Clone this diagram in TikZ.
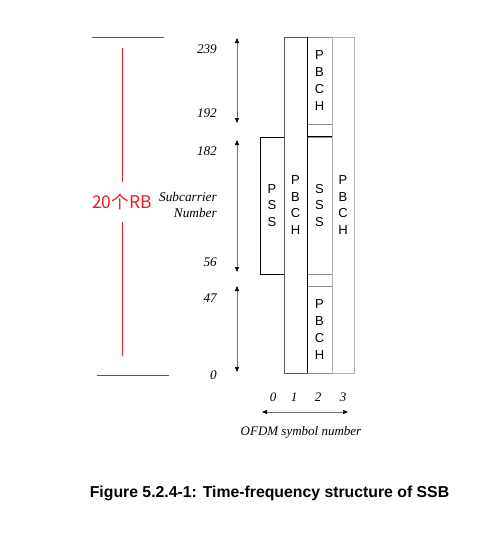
\documentclass[tikz,border=0pt]{standalone}
\usepackage{fontspec}
\setmainfont{Liberation Serif}
\setsansfont{Liberation Sans}
\newfontfamily\cjkfont{Noto Sans CJK SC}
\usepackage{tikz}
\usetikzlibrary{arrows.meta}
\definecolor{rbred}{RGB}{237,28,36}

\begin{document}
\begin{tikzpicture}[x=1pt, y=-1pt,
  col/.style={draw=black!65, line width=0.8pt, inner sep=0pt, align=center,
              font=\sffamily\fontsize{13}{16.8}\selectfont},
  num/.style={font=\itshape\fontsize{13.2}{15}\selectfont, anchor=east, inner sep=0pt},
  sym/.style={font=\itshape\fontsize{13}{15}\selectfont, inner sep=0pt},
  span/.style={{Triangle[length=5pt,width=4pt,black]}-{Triangle[length=5pt,width=4pt,black]},
               draw=black!55, line width=0.6pt},
  rbline/.style={draw=rbred, line width=1pt}]
\useasboundingbox (0,0) rectangle (487,533);
% 20 RB marker
\node[text=rbred, inner sep=0pt, font=\cjkfont\fontsize{17.5}{19}\selectfont] (rb) at (122,202) {20个RB};
\coordinate (r1) at (122.5,48);  \coordinate (r2) at (122.5,182);
\coordinate (r3) at (122.5,222); \coordinate (r4) at (122.5,356);
\draw[rbline] (r1) -- (r2);
\draw[rbline] (r3) -- (r4);
\draw[rbline] (92,37.5) -- (164,37.5);
\draw[rbline] (97,375.5) -- (169,375.5);
% SSB grid
\node[col, draw=black, minimum width=24pt, minimum height=137pt] (pss) at (272,205.5) {P\\S\\S};
\node[col, minimum width=23pt, minimum height=336pt] (sym1) at (295.5,205) {P\\B\\C\\H};
\node[col, draw=black!45, minimum width=25pt, minimum height=87pt] (pbchtop) at (319.5,80.5) {P\\B\\C\\H};
\node[col, draw=black!45, minimum width=25pt, minimum height=137pt] (sss) at (319.5,205.5) {S\\S\\S};
\node[col, draw=black!45, minimum width=25pt, minimum height=87pt] (pbchbot) at (319.5,329.5) {P\\B\\C\\H};
\node[col, draw=black!30, minimum width=22pt, minimum height=336pt] (sym3) at (343,205) {P\\B\\C\\H};
\draw[line width=0.8pt] (sym1.north east) -- (sym1.south east);
\draw[line width=0.8pt] (sss.north west) -- (sss.north east);
% subcarrier axis
\node[num] (k239) at (217,49) {239};
\node[num] (k192) at (217,113) {192};
\node[num] (k182) at (217,151) {182};
\node[num] (k56) at (217,262) {56};
\node[num] (k47) at (217,298) {47};
\node[num] (k0) at (217,375) {0};
\node[num, align=right, font=\itshape\fontsize{13.3}{16}\selectfont] (sc) at (217,205) {Subcarrier\\ Number};
\coordinate (a1) at (237,38);  \coordinate (b1) at (237,123);
\coordinate (a2) at (237,140); \coordinate (b2) at (237,272);
\coordinate (a3) at (237,286); \coordinate (b3) at (237,372);
\draw[span] (a1) -- (b1);
\draw[span] (a2) -- (b2);
\draw[span] (a3) -- (b3);
% symbol axis
\node[sym] (s0) at (273,397) {0};
\node[sym] (s1) at (294,397) {1};
\node[sym] (s2) at (318,397) {2};
\node[sym] (s3) at (343,397) {3};
\coordinate (ol) at (262,412); \coordinate (or) at (348,412);
\draw[span] (ol) -- (or);
\node[sym] (ofdm) at (301,432) {OFDM symbol number};
% caption
\node[font=\sffamily\bfseries\fontsize{15.8}{18}\selectfont] (cap) at (269.5,493)
  {Figure 5.2.4-1: Time-frequency structure of SSB};
\end{tikzpicture}
\end{document}
